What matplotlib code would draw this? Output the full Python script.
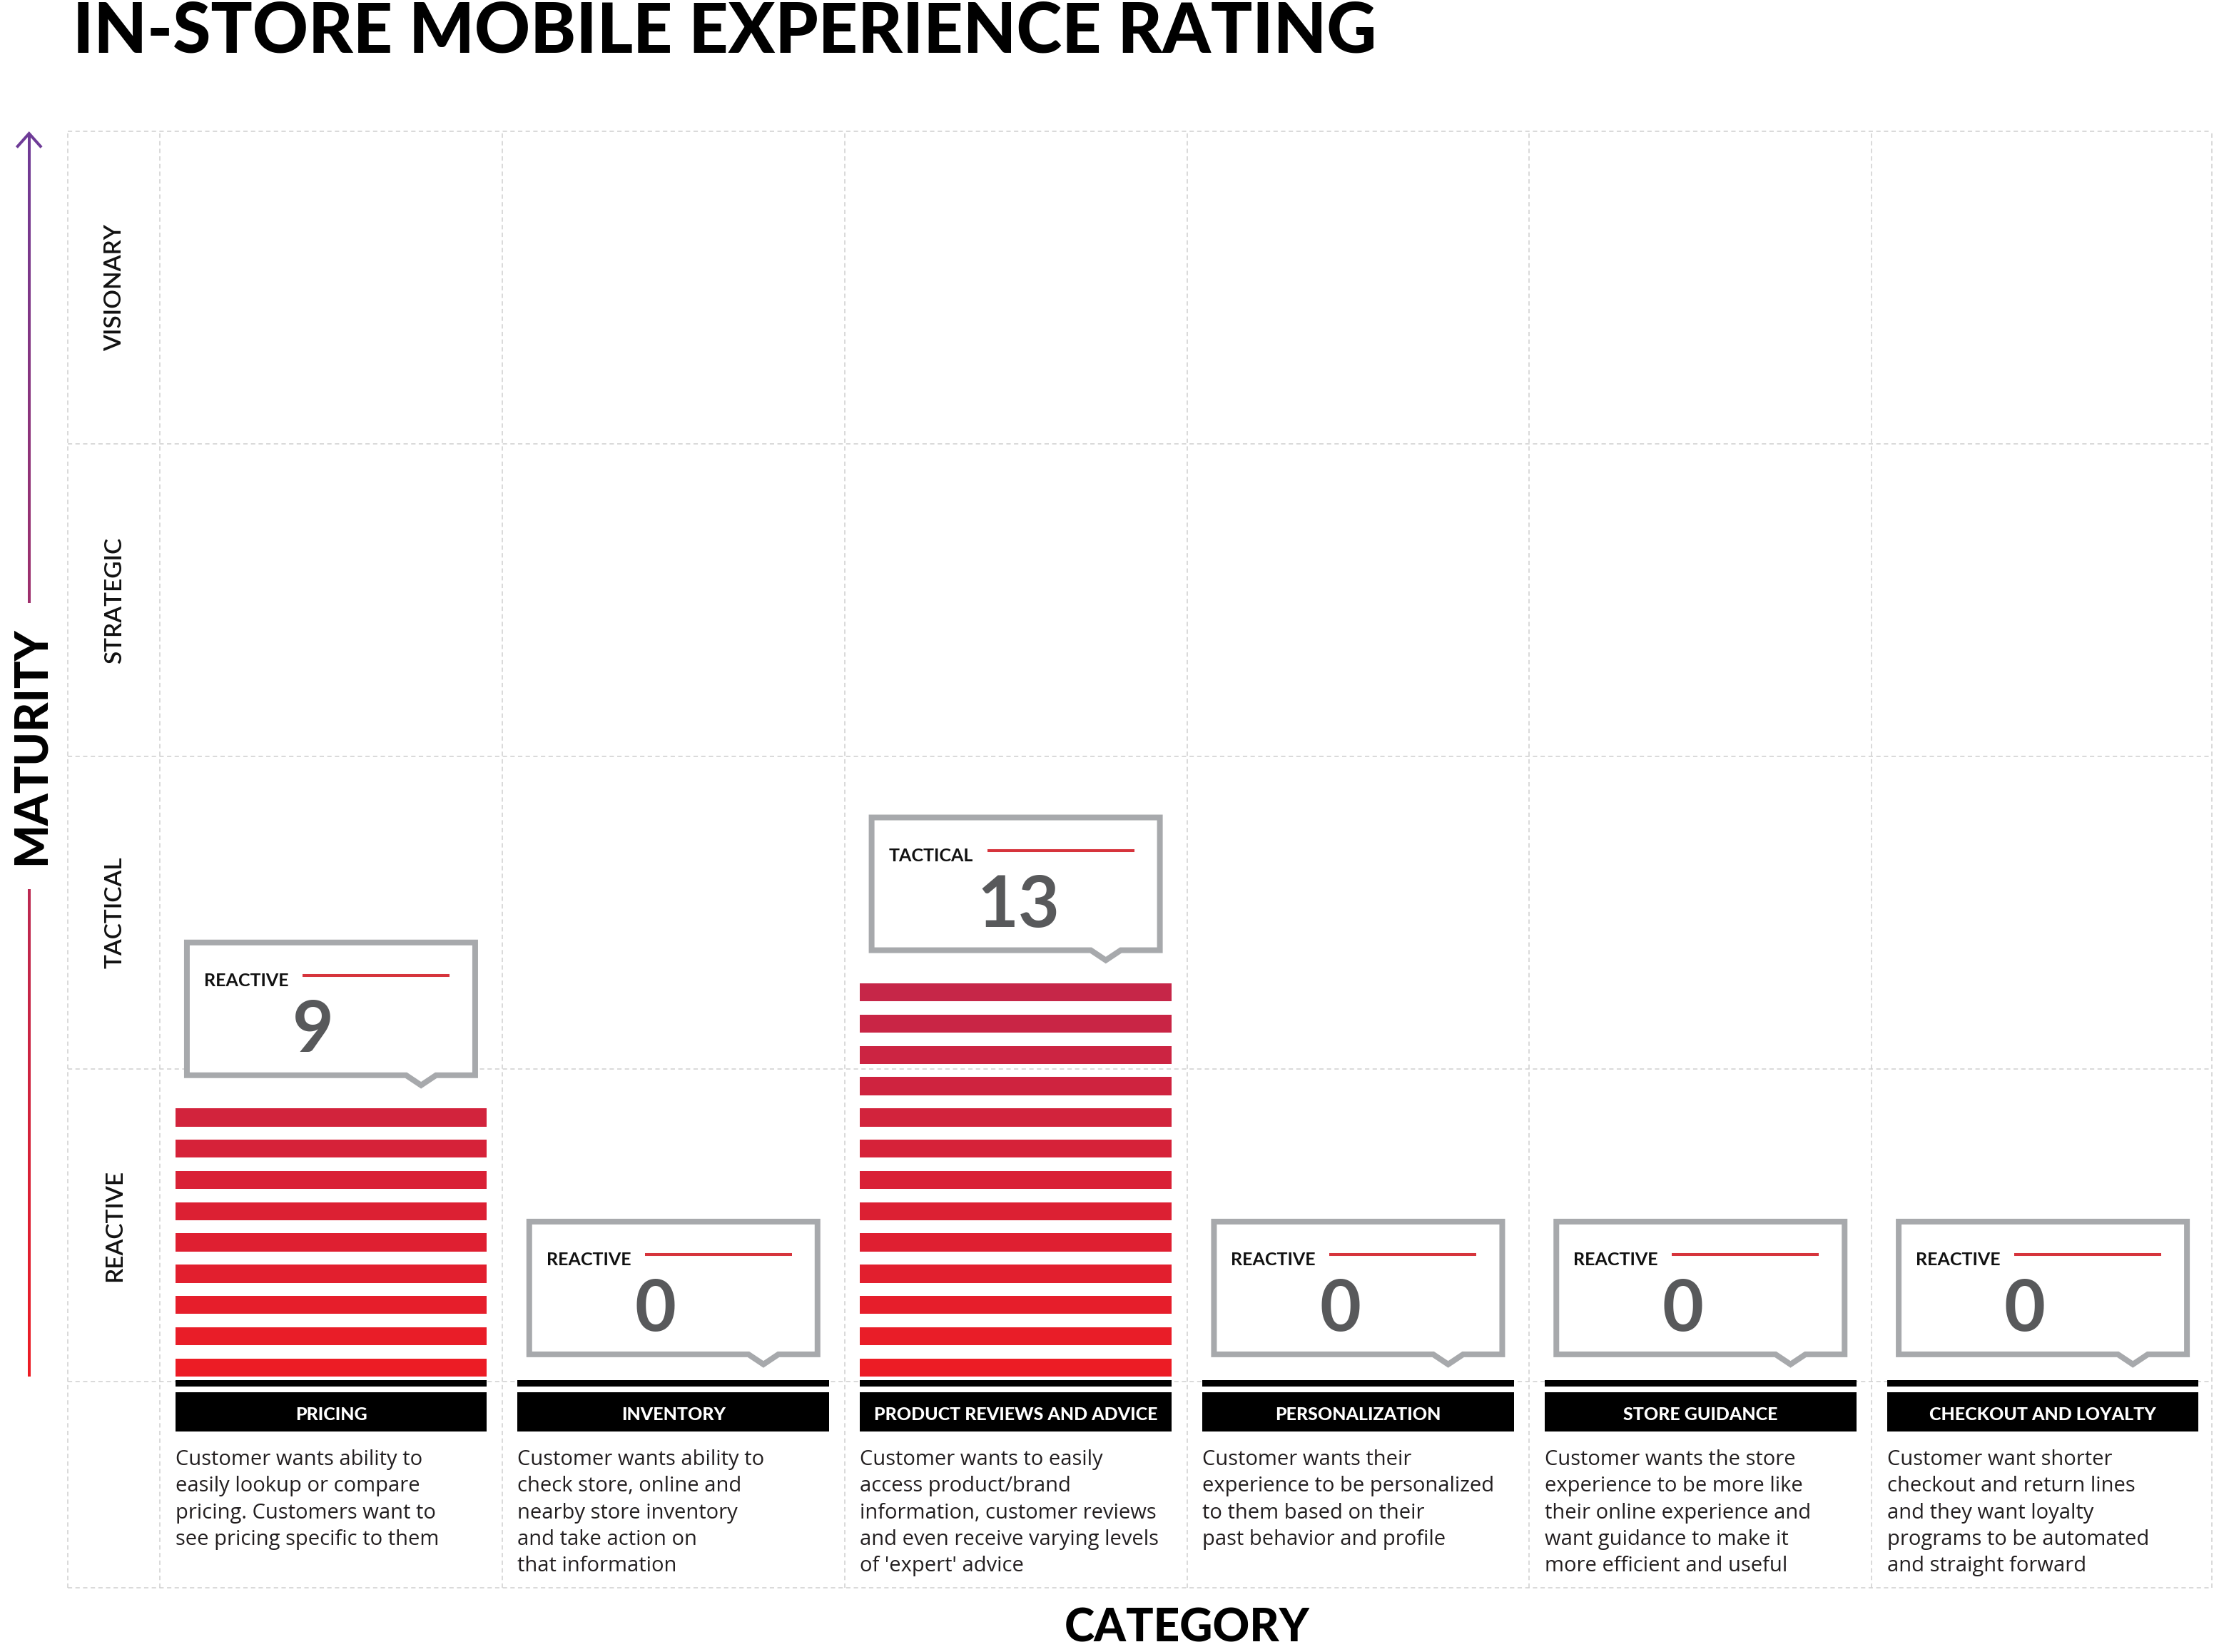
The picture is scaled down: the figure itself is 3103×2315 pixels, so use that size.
import matplotlib
matplotlib.use("Agg")
import matplotlib.pyplot as plt
import numpy as np
from matplotlib.colors import LinearSegmentedColormap
from matplotlib.patches import Polygon
from matplotlib.collections import LineCollection

# ---- data ----
categories = ["PRICING", "INVENTORY", "PRODUCT REVIEWS AND ADVICE",
              "PERSONALIZATION", "STORE GUIDANCE", "CHECKOUT AND LOYALTY"]
scores = [9, 0, 13, 0, 0, 0]
score_levels = ["REACTIVE", "REACTIVE", "TACTICAL", "REACTIVE", "REACTIVE", "REACTIVE"]
maturity_levels = ["REACTIVE", "TACTICAL", "STRATEGIC", "VISIONARY"]
descriptions = [
    "Customer wants ability to\neasily lookup or compare\npricing. Customers want to\nsee pricing specific to them",
    "Customer wants ability to\ncheck store, online and\nnearby store inventory\nand take action on\nthat information",
    "Customer wants to easily\naccess product/brand\ninformation, customer reviews\nand even receive varying levels\nof 'expert' advice",
    "Customer wants their\nexperience to be personalized\nto them based on their\npast behavior and profile",
    "Customer wants the store\nexperience to be more like\ntheir online experience and\nwant guidance to make it\nmore efficient and useful",
    "Customer want shorter\ncheckout and return lines\nand they want loyalty\nprograms to be automated\nand straight forward",
]
row_size = 10

plt.rcParams['font.family'] = ['Lato', 'DejaVu Sans']

grad = LinearSegmentedColormap.from_list("maturity", ["#ED1C24", "#6E3B97"])
grid_col = "#CFCFCF"
box_col = "#A7A9AC"

fig = plt.figure(figsize=(31.03, 23.15), dpi=100)
ax = fig.add_axes([0, 0, 1, 1])
ax.set_xlim(-0.9669, 5.5)
ax.set_ylim(-8.653, 44.201)
ax.axis("off")

# grid
top = row_size * len(maturity_levels)
bottom = -6.6
for gx in [-0.769] + [c - 0.5 for c in range(len(categories))] + [5.494]:
    ax.plot([gx, gx], [bottom, top], color=grid_col, lw=1.1, dashes=(4, 3), zorder=1)
for gy in [r * row_size for r in range(len(maturity_levels) + 1)] + [bottom]:
    ax.plot([-0.769, 5.494], [gy, gy], color=grid_col, lw=1.1, dashes=(4, 3), zorder=1)

# row labels
for r, lab in enumerate(maturity_levels):
    ax.text(-0.6125, r * row_size + row_size / 2, lab, rotation=90, rotation_mode="anchor",
            ha="center", va="baseline", fontsize=24, weight="semibold", color="#111111")

# stripes, labels, callouts
for i, n in enumerate(scores):
    ks = np.arange(n)
    ax.bar([i] * n, [0.58] * n, bottom=ks + 0.16, width=0.91,
           color=[grad((k + 0.45) / top) for k in ks], zorder=3)
    ax.bar(i, 0.206, bottom=-0.16, width=0.91, color="black", zorder=3)
    ax.bar(i, 1.256, bottom=-1.598, width=0.91, color="black", zorder=3)
    ax.text(i, -1.233, categories[i], ha="center", va="baseline", color="white",
            fontsize=18, weight="black", zorder=4)
    for j, line in enumerate(descriptions[i].split("\n")):
        ax.text(i - 0.455, -2.67 - j * 0.852, line, ha="left", va="baseline",
                fontsize=21, color="#231F20", family=["Open Sans", "DejaVu Sans"],
                weight="normal", zorder=4)

    b = n + 0.8 if n else 0.87
    t = b + 4.247
    l, rr = i - 0.421, i + 0.421
    tip = rr - 0.158
    pts = [(l, b), (tip - 0.0438, b), (tip, b - 0.32), (tip + 0.0438, b),
           (rr, b), (rr, t), (l, t)]
    ax.add_patch(Polygon(pts, closed=True, facecolor="white", edgecolor=box_col,
                         lw=5.76, joinstyle="miter", zorder=4))
    ax.text(l + 0.050, t - 1.393, score_levels[i], ha="left", va="baseline",
            fontsize=18, weight="bold", color="#111111", zorder=5)
    ax.plot([l + 0.3376, l + 0.767], [t - 1.05, t - 1.05], color="#D6343C", lw=2.9,
            solid_capstyle="butt", zorder=5)
    ax.text(l + 0.308, t - 3.493, str(n), ha="left", va="baseline",
            fontsize=72, weight="bold", color="#58595B", zorder=5)

# maturity arrow
ax_x = -0.882
for y0, y1 in [(0.16, 15.75), (24.91, 39.93)]:
    ys = np.linspace(y0, y1, 80)
    segs = [[(ax_x, ys[k]), (ax_x, ys[k + 1])] for k in range(len(ys) - 1)]
    ax.add_collection(LineCollection(segs, colors=[grad(min(y / top, 1)) for y in ys[:-1]],
                                     linewidths=2.9, capstyle="butt", zorder=3))
ax.plot([ax_x - 0.0333, ax_x, ax_x + 0.0333], [39.52, 39.93, 39.52], color=grad(1.0),
        lw=2.9, solid_joinstyle="miter", zorder=3)
ax.text(-0.8356, 20.33, "MATURITY", rotation=90, rotation_mode="anchor",
        ha="center", va="baseline", fontsize=46, weight="black", color="black")

ax.text(2.5, -8.33, "CATEGORY", ha="center", va="baseline", fontsize=46,
        weight="black", color="black")

fig.text(102 / 3103, 1 - 73 / 2315, "IN-STORE MOBILE EXPERIENCE RATING",
         fontsize=69.5, weight="black", va="baseline", ha="left", color="black")

fig.savefig("out.png", dpi=100)
